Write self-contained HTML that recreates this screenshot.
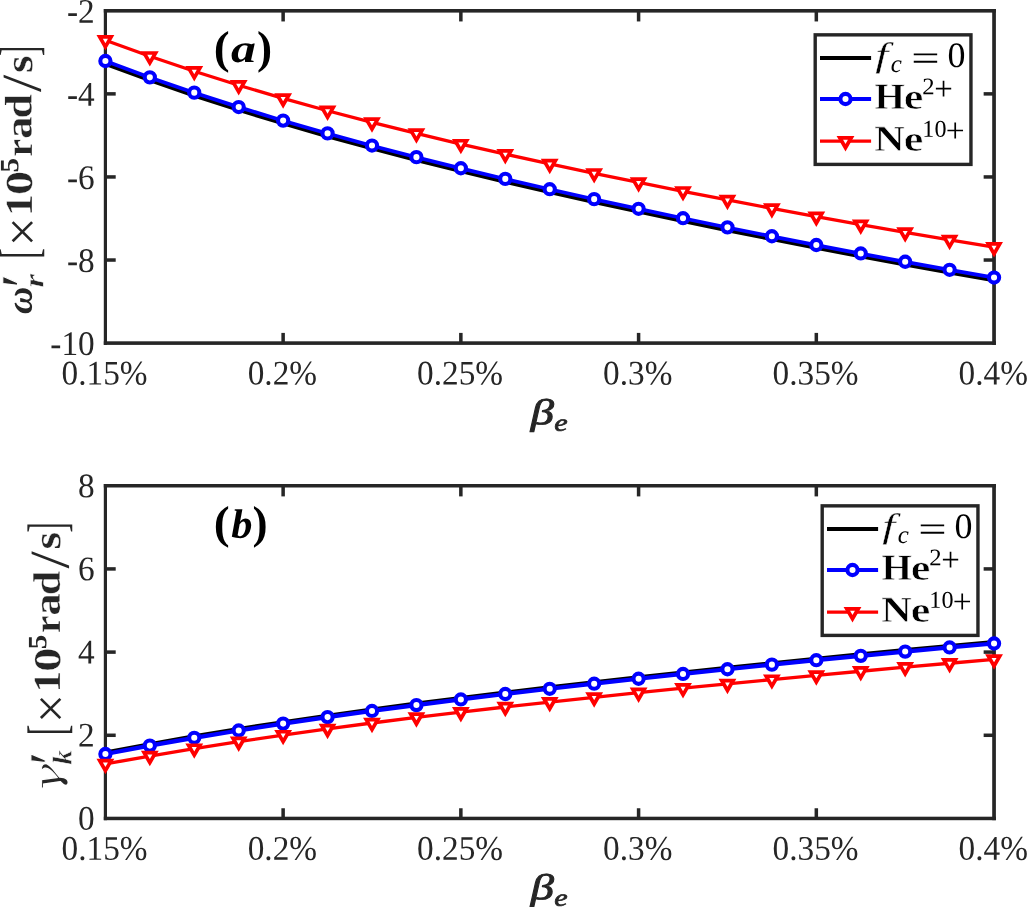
<!DOCTYPE html>
<html lang="en"><head><meta charset="utf-8"><title>Figure</title>
<style>html,body{margin:0;padding:0;background:#fff}svg{display:block}</style></head>
<body>
<svg width="1027" height="907" viewBox="0 0 1027 907" text-rendering="geometricPrecision">
<rect width="1027" height="907" fill="#fff"/>
<g>
<rect x="281.38" y="332.90" width="3.50" height="10.20" fill="#262626"/>
<rect x="281.38" y="10.80" width="3.50" height="10.65" fill="#262626"/>
<rect x="459.11" y="332.90" width="3.50" height="10.20" fill="#262626"/>
<rect x="459.11" y="10.80" width="3.50" height="10.65" fill="#262626"/>
<rect x="636.84" y="332.90" width="3.50" height="10.20" fill="#262626"/>
<rect x="636.84" y="10.80" width="3.50" height="10.65" fill="#262626"/>
<rect x="814.57" y="332.90" width="3.50" height="10.20" fill="#262626"/>
<rect x="814.57" y="10.80" width="3.50" height="10.65" fill="#262626"/>
<rect x="105.40" y="92.12" width="10.30" height="3.50" fill="#262626"/>
<rect x="983.65" y="92.12" width="10.40" height="3.50" fill="#262626"/>
<rect x="105.40" y="175.20" width="10.30" height="3.50" fill="#262626"/>
<rect x="983.65" y="175.20" width="10.40" height="3.50" fill="#262626"/>
<rect x="105.40" y="258.28" width="10.30" height="3.50" fill="#262626"/>
<rect x="983.65" y="258.28" width="10.40" height="3.50" fill="#262626"/>
<rect x="103.80" y="9.00" width="3.20" height="335.90" fill="#262626"/>
<rect x="992.20" y="9.00" width="3.70" height="335.90" fill="#262626"/>
<rect x="103.80" y="9.00" width="892.10" height="3.60" fill="#262626"/>
<rect x="103.80" y="341.30" width="892.10" height="3.60" fill="#262626"/>
<polyline points="105.40,63.85 149.83,80.19 194.26,95.50 238.70,109.88 283.13,123.43 327.56,136.24 372.00,148.41 416.43,160.01 460.86,171.11 505.29,181.77 549.73,192.06 594.16,202.00 638.59,211.66 683.02,221.04 727.46,230.19 771.89,239.12 816.32,247.83 860.75,256.32 905.18,264.59 949.62,272.63 994.05,280.40" fill="none" stroke="#000" stroke-width="4.0" stroke-linejoin="round"/>
<polyline points="105.40,61.10 149.83,77.44 194.26,92.75 238.70,107.13 283.13,120.68 327.56,133.49 372.00,145.66 416.43,157.26 460.86,168.36 505.29,179.02 549.73,189.31 594.16,199.25 638.59,208.91 683.02,218.29 727.46,227.44 771.89,236.37 816.32,245.08 860.75,253.57 905.18,261.84 949.62,269.88 994.05,277.65" fill="none" stroke="#00f" stroke-width="3.7" stroke-linejoin="round"/>
<circle cx="105.40" cy="61.00" r="5.1" fill="#fff" stroke="#00f" stroke-width="4.1"/>
<circle cx="149.83" cy="77.34" r="5.1" fill="#fff" stroke="#00f" stroke-width="4.1"/>
<circle cx="194.26" cy="92.65" r="5.1" fill="#fff" stroke="#00f" stroke-width="4.1"/>
<circle cx="238.70" cy="107.03" r="5.1" fill="#fff" stroke="#00f" stroke-width="4.1"/>
<circle cx="283.13" cy="120.58" r="5.1" fill="#fff" stroke="#00f" stroke-width="4.1"/>
<circle cx="327.56" cy="133.39" r="5.1" fill="#fff" stroke="#00f" stroke-width="4.1"/>
<circle cx="372.00" cy="145.56" r="5.1" fill="#fff" stroke="#00f" stroke-width="4.1"/>
<circle cx="416.43" cy="157.16" r="5.1" fill="#fff" stroke="#00f" stroke-width="4.1"/>
<circle cx="460.86" cy="168.26" r="5.1" fill="#fff" stroke="#00f" stroke-width="4.1"/>
<circle cx="505.29" cy="178.92" r="5.1" fill="#fff" stroke="#00f" stroke-width="4.1"/>
<circle cx="549.73" cy="189.21" r="5.1" fill="#fff" stroke="#00f" stroke-width="4.1"/>
<circle cx="594.16" cy="199.15" r="5.1" fill="#fff" stroke="#00f" stroke-width="4.1"/>
<circle cx="638.59" cy="208.81" r="5.1" fill="#fff" stroke="#00f" stroke-width="4.1"/>
<circle cx="683.02" cy="218.19" r="5.1" fill="#fff" stroke="#00f" stroke-width="4.1"/>
<circle cx="727.46" cy="227.34" r="5.1" fill="#fff" stroke="#00f" stroke-width="4.1"/>
<circle cx="771.89" cy="236.27" r="5.1" fill="#fff" stroke="#00f" stroke-width="4.1"/>
<circle cx="816.32" cy="244.98" r="5.1" fill="#fff" stroke="#00f" stroke-width="4.1"/>
<circle cx="860.75" cy="253.47" r="5.1" fill="#fff" stroke="#00f" stroke-width="4.1"/>
<circle cx="905.18" cy="261.74" r="5.1" fill="#fff" stroke="#00f" stroke-width="4.1"/>
<circle cx="949.62" cy="269.78" r="5.1" fill="#fff" stroke="#00f" stroke-width="4.1"/>
<circle cx="994.05" cy="277.55" r="5.1" fill="#fff" stroke="#00f" stroke-width="4.1"/>
<polyline points="105.40,40.21 149.83,56.30 194.26,71.27 238.70,85.26 283.13,98.38 327.56,110.72 372.00,122.39 416.43,133.47 460.86,144.03 505.29,154.16 549.73,163.91 594.16,173.32 638.59,182.45 683.02,191.32 727.46,199.96 771.89,208.39 816.32,216.61 860.75,224.62 905.18,232.41 949.62,239.96 994.05,247.24" fill="none" stroke="#f00" stroke-width="3.3" stroke-linejoin="round"/>
<polygon points="99.68,36.91 111.12,36.91 105.40,46.81" fill="#fff" stroke="#f00" stroke-width="3.7" stroke-linejoin="miter" stroke-miterlimit="10"/>
<polygon points="144.11,53.00 155.55,53.00 149.83,62.90" fill="#fff" stroke="#f00" stroke-width="3.7" stroke-linejoin="miter" stroke-miterlimit="10"/>
<polygon points="188.54,67.97 199.98,67.97 194.26,77.87" fill="#fff" stroke="#f00" stroke-width="3.7" stroke-linejoin="miter" stroke-miterlimit="10"/>
<polygon points="232.98,81.96 244.42,81.96 238.70,91.86" fill="#fff" stroke="#f00" stroke-width="3.7" stroke-linejoin="miter" stroke-miterlimit="10"/>
<polygon points="277.41,95.08 288.85,95.08 283.13,104.98" fill="#fff" stroke="#f00" stroke-width="3.7" stroke-linejoin="miter" stroke-miterlimit="10"/>
<polygon points="321.84,107.42 333.28,107.42 327.56,117.32" fill="#fff" stroke="#f00" stroke-width="3.7" stroke-linejoin="miter" stroke-miterlimit="10"/>
<polygon points="366.27,119.09 377.72,119.09 372.00,128.99" fill="#fff" stroke="#f00" stroke-width="3.7" stroke-linejoin="miter" stroke-miterlimit="10"/>
<polygon points="410.71,130.17 422.15,130.17 416.43,140.07" fill="#fff" stroke="#f00" stroke-width="3.7" stroke-linejoin="miter" stroke-miterlimit="10"/>
<polygon points="455.14,140.73 466.58,140.73 460.86,150.63" fill="#fff" stroke="#f00" stroke-width="3.7" stroke-linejoin="miter" stroke-miterlimit="10"/>
<polygon points="499.57,150.86 511.01,150.86 505.29,160.76" fill="#fff" stroke="#f00" stroke-width="3.7" stroke-linejoin="miter" stroke-miterlimit="10"/>
<polygon points="544.00,160.61 555.45,160.61 549.73,170.51" fill="#fff" stroke="#f00" stroke-width="3.7" stroke-linejoin="miter" stroke-miterlimit="10"/>
<polygon points="588.44,170.02 599.88,170.02 594.16,179.92" fill="#fff" stroke="#f00" stroke-width="3.7" stroke-linejoin="miter" stroke-miterlimit="10"/>
<polygon points="632.87,179.15 644.31,179.15 638.59,189.05" fill="#fff" stroke="#f00" stroke-width="3.7" stroke-linejoin="miter" stroke-miterlimit="10"/>
<polygon points="677.30,188.02 688.74,188.02 683.02,197.92" fill="#fff" stroke="#f00" stroke-width="3.7" stroke-linejoin="miter" stroke-miterlimit="10"/>
<polygon points="721.74,196.66 733.18,196.66 727.46,206.56" fill="#fff" stroke="#f00" stroke-width="3.7" stroke-linejoin="miter" stroke-miterlimit="10"/>
<polygon points="766.17,205.09 777.61,205.09 771.89,214.99" fill="#fff" stroke="#f00" stroke-width="3.7" stroke-linejoin="miter" stroke-miterlimit="10"/>
<polygon points="810.60,213.31 822.04,213.31 816.32,223.21" fill="#fff" stroke="#f00" stroke-width="3.7" stroke-linejoin="miter" stroke-miterlimit="10"/>
<polygon points="855.03,221.32 866.47,221.32 860.75,231.22" fill="#fff" stroke="#f00" stroke-width="3.7" stroke-linejoin="miter" stroke-miterlimit="10"/>
<polygon points="899.46,229.11 910.90,229.11 905.18,239.01" fill="#fff" stroke="#f00" stroke-width="3.7" stroke-linejoin="miter" stroke-miterlimit="10"/>
<polygon points="943.90,236.66 955.34,236.66 949.62,246.56" fill="#fff" stroke="#f00" stroke-width="3.7" stroke-linejoin="miter" stroke-miterlimit="10"/>
<polygon points="988.33,243.94 999.77,243.94 994.05,253.84" fill="#fff" stroke="#f00" stroke-width="3.7" stroke-linejoin="miter" stroke-miterlimit="10"/>
<text transform="matrix(1 0.0005 0 1.035 104.60 384.6)" text-anchor="middle" font-family="Liberation Serif, serif" font-size="33.3" fill="#262626">0.15%</text>
<text transform="matrix(1 0.0005 0 1.035 282.33 384.6)" text-anchor="middle" font-family="Liberation Serif, serif" font-size="33.3" fill="#262626">0.2%</text>
<text transform="matrix(1 0.0005 0 1.035 460.06 384.6)" text-anchor="middle" font-family="Liberation Serif, serif" font-size="33.3" fill="#262626">0.25%</text>
<text transform="matrix(1 0.0005 0 1.035 637.79 384.6)" text-anchor="middle" font-family="Liberation Serif, serif" font-size="33.3" fill="#262626">0.3%</text>
<text transform="matrix(1 0.0005 0 1.035 815.52 384.6)" text-anchor="middle" font-family="Liberation Serif, serif" font-size="33.3" fill="#262626">0.35%</text>
<text transform="matrix(1 0.0005 0 1.035 993.25 384.6)" text-anchor="middle" font-family="Liberation Serif, serif" font-size="33.3" fill="#262626">0.4%</text>
<text transform="matrix(1 0.0005 0 1.035 94.7 22.80)" text-anchor="end" font-family="Liberation Serif, serif" font-size="33.3" fill="#262626">-2</text>
<text transform="matrix(1 0.0005 0 1.035 94.7 105.88)" text-anchor="end" font-family="Liberation Serif, serif" font-size="33.3" fill="#262626">-4</text>
<text transform="matrix(1 0.0005 0 1.035 94.7 188.95)" text-anchor="end" font-family="Liberation Serif, serif" font-size="33.3" fill="#262626">-6</text>
<text transform="matrix(1 0.0005 0 1.035 94.7 272.03)" text-anchor="end" font-family="Liberation Serif, serif" font-size="33.3" fill="#262626">-8</text>
<text transform="matrix(1 0.0005 0 1.035 94.7 355.10)" text-anchor="end" font-family="Liberation Serif, serif" font-size="33.3" fill="#262626">-10</text>
</g>
<g>
<rect x="281.38" y="808.25" width="3.50" height="10.20" fill="#262626"/>
<rect x="281.38" y="485.75" width="3.50" height="10.65" fill="#262626"/>
<rect x="459.11" y="808.25" width="3.50" height="10.20" fill="#262626"/>
<rect x="459.11" y="485.75" width="3.50" height="10.65" fill="#262626"/>
<rect x="636.84" y="808.25" width="3.50" height="10.20" fill="#262626"/>
<rect x="636.84" y="485.75" width="3.50" height="10.65" fill="#262626"/>
<rect x="814.57" y="808.25" width="3.50" height="10.20" fill="#262626"/>
<rect x="814.57" y="485.75" width="3.50" height="10.65" fill="#262626"/>
<rect x="105.40" y="567.17" width="10.30" height="3.50" fill="#262626"/>
<rect x="983.65" y="567.17" width="10.40" height="3.50" fill="#262626"/>
<rect x="105.40" y="650.35" width="10.30" height="3.50" fill="#262626"/>
<rect x="983.65" y="650.35" width="10.40" height="3.50" fill="#262626"/>
<rect x="105.40" y="733.53" width="10.30" height="3.50" fill="#262626"/>
<rect x="983.65" y="733.53" width="10.40" height="3.50" fill="#262626"/>
<rect x="103.80" y="484.00" width="3.20" height="336.20" fill="#262626"/>
<rect x="992.20" y="484.00" width="3.70" height="336.20" fill="#262626"/>
<rect x="103.80" y="484.00" width="892.10" height="3.50" fill="#262626"/>
<rect x="103.80" y="816.70" width="892.10" height="3.50" fill="#262626"/>
<polyline points="105.40,752.48 149.83,744.12 194.26,736.31 238.70,728.99 283.13,722.11 327.56,715.61 372.00,709.45 416.43,703.57 460.86,697.94 505.29,692.52 549.73,687.28 594.16,682.21 638.59,677.27 683.02,672.46 727.46,667.76 771.89,663.17 816.32,658.69 860.75,654.32 905.18,650.07 949.62,645.96 994.05,642.00" fill="none" stroke="#000" stroke-width="4.0" stroke-linejoin="round"/>
<polyline points="105.40,753.98 149.83,745.62 194.26,737.81 238.70,730.49 283.13,723.61 327.56,717.11 372.00,710.95 416.43,705.07 460.86,699.44 505.29,694.02 549.73,688.78 594.16,683.71 638.59,678.77 683.02,673.96 727.46,669.26 771.89,664.67 816.32,660.19 860.75,655.82 905.18,651.57 949.62,647.46 994.05,643.50" fill="none" stroke="#00f" stroke-width="4.2" stroke-linejoin="round"/>
<circle cx="105.40" cy="753.98" r="5.1" fill="#fff" stroke="#00f" stroke-width="4.1"/>
<circle cx="149.83" cy="745.62" r="5.1" fill="#fff" stroke="#00f" stroke-width="4.1"/>
<circle cx="194.26" cy="737.81" r="5.1" fill="#fff" stroke="#00f" stroke-width="4.1"/>
<circle cx="238.70" cy="730.49" r="5.1" fill="#fff" stroke="#00f" stroke-width="4.1"/>
<circle cx="283.13" cy="723.61" r="5.1" fill="#fff" stroke="#00f" stroke-width="4.1"/>
<circle cx="327.56" cy="717.11" r="5.1" fill="#fff" stroke="#00f" stroke-width="4.1"/>
<circle cx="372.00" cy="710.95" r="5.1" fill="#fff" stroke="#00f" stroke-width="4.1"/>
<circle cx="416.43" cy="705.07" r="5.1" fill="#fff" stroke="#00f" stroke-width="4.1"/>
<circle cx="460.86" cy="699.44" r="5.1" fill="#fff" stroke="#00f" stroke-width="4.1"/>
<circle cx="505.29" cy="694.02" r="5.1" fill="#fff" stroke="#00f" stroke-width="4.1"/>
<circle cx="549.73" cy="688.78" r="5.1" fill="#fff" stroke="#00f" stroke-width="4.1"/>
<circle cx="594.16" cy="683.71" r="5.1" fill="#fff" stroke="#00f" stroke-width="4.1"/>
<circle cx="638.59" cy="678.77" r="5.1" fill="#fff" stroke="#00f" stroke-width="4.1"/>
<circle cx="683.02" cy="673.96" r="5.1" fill="#fff" stroke="#00f" stroke-width="4.1"/>
<circle cx="727.46" cy="669.26" r="5.1" fill="#fff" stroke="#00f" stroke-width="4.1"/>
<circle cx="771.89" cy="664.67" r="5.1" fill="#fff" stroke="#00f" stroke-width="4.1"/>
<circle cx="816.32" cy="660.19" r="5.1" fill="#fff" stroke="#00f" stroke-width="4.1"/>
<circle cx="860.75" cy="655.82" r="5.1" fill="#fff" stroke="#00f" stroke-width="4.1"/>
<circle cx="905.18" cy="651.57" r="5.1" fill="#fff" stroke="#00f" stroke-width="4.1"/>
<circle cx="949.62" cy="647.46" r="5.1" fill="#fff" stroke="#00f" stroke-width="4.1"/>
<circle cx="994.05" cy="643.50" r="5.1" fill="#fff" stroke="#00f" stroke-width="4.1"/>
<polyline points="105.40,763.98 149.83,756.02 194.26,748.57 238.70,741.60 283.13,735.04 327.56,728.85 372.00,722.99 416.43,717.42 460.86,712.10 505.29,706.99 549.73,702.08 594.16,697.33 638.59,692.72 683.02,688.23 727.46,683.84 771.89,679.56 816.32,675.36 860.75,671.24 905.18,667.21 949.62,663.26 994.05,659.40" fill="none" stroke="#f00" stroke-width="3.3" stroke-linejoin="round"/>
<polygon points="99.68,760.68 111.12,760.68 105.40,770.58" fill="#fff" stroke="#f00" stroke-width="3.7" stroke-linejoin="miter" stroke-miterlimit="10"/>
<polygon points="144.11,752.72 155.55,752.72 149.83,762.62" fill="#fff" stroke="#f00" stroke-width="3.7" stroke-linejoin="miter" stroke-miterlimit="10"/>
<polygon points="188.54,745.27 199.98,745.27 194.26,755.17" fill="#fff" stroke="#f00" stroke-width="3.7" stroke-linejoin="miter" stroke-miterlimit="10"/>
<polygon points="232.98,738.30 244.42,738.30 238.70,748.20" fill="#fff" stroke="#f00" stroke-width="3.7" stroke-linejoin="miter" stroke-miterlimit="10"/>
<polygon points="277.41,731.74 288.85,731.74 283.13,741.64" fill="#fff" stroke="#f00" stroke-width="3.7" stroke-linejoin="miter" stroke-miterlimit="10"/>
<polygon points="321.84,725.55 333.28,725.55 327.56,735.45" fill="#fff" stroke="#f00" stroke-width="3.7" stroke-linejoin="miter" stroke-miterlimit="10"/>
<polygon points="366.27,719.69 377.72,719.69 372.00,729.59" fill="#fff" stroke="#f00" stroke-width="3.7" stroke-linejoin="miter" stroke-miterlimit="10"/>
<polygon points="410.71,714.12 422.15,714.12 416.43,724.02" fill="#fff" stroke="#f00" stroke-width="3.7" stroke-linejoin="miter" stroke-miterlimit="10"/>
<polygon points="455.14,708.80 466.58,708.80 460.86,718.70" fill="#fff" stroke="#f00" stroke-width="3.7" stroke-linejoin="miter" stroke-miterlimit="10"/>
<polygon points="499.57,703.69 511.01,703.69 505.29,713.59" fill="#fff" stroke="#f00" stroke-width="3.7" stroke-linejoin="miter" stroke-miterlimit="10"/>
<polygon points="544.00,698.78 555.45,698.78 549.73,708.68" fill="#fff" stroke="#f00" stroke-width="3.7" stroke-linejoin="miter" stroke-miterlimit="10"/>
<polygon points="588.44,694.03 599.88,694.03 594.16,703.93" fill="#fff" stroke="#f00" stroke-width="3.7" stroke-linejoin="miter" stroke-miterlimit="10"/>
<polygon points="632.87,689.42 644.31,689.42 638.59,699.32" fill="#fff" stroke="#f00" stroke-width="3.7" stroke-linejoin="miter" stroke-miterlimit="10"/>
<polygon points="677.30,684.93 688.74,684.93 683.02,694.83" fill="#fff" stroke="#f00" stroke-width="3.7" stroke-linejoin="miter" stroke-miterlimit="10"/>
<polygon points="721.74,680.54 733.18,680.54 727.46,690.44" fill="#fff" stroke="#f00" stroke-width="3.7" stroke-linejoin="miter" stroke-miterlimit="10"/>
<polygon points="766.17,676.26 777.61,676.26 771.89,686.16" fill="#fff" stroke="#f00" stroke-width="3.7" stroke-linejoin="miter" stroke-miterlimit="10"/>
<polygon points="810.60,672.06 822.04,672.06 816.32,681.96" fill="#fff" stroke="#f00" stroke-width="3.7" stroke-linejoin="miter" stroke-miterlimit="10"/>
<polygon points="855.03,667.94 866.47,667.94 860.75,677.84" fill="#fff" stroke="#f00" stroke-width="3.7" stroke-linejoin="miter" stroke-miterlimit="10"/>
<polygon points="899.46,663.91 910.90,663.91 905.18,673.81" fill="#fff" stroke="#f00" stroke-width="3.7" stroke-linejoin="miter" stroke-miterlimit="10"/>
<polygon points="943.90,659.96 955.34,659.96 949.62,669.86" fill="#fff" stroke="#f00" stroke-width="3.7" stroke-linejoin="miter" stroke-miterlimit="10"/>
<polygon points="988.33,656.10 999.77,656.10 994.05,666.00" fill="#fff" stroke="#f00" stroke-width="3.7" stroke-linejoin="miter" stroke-miterlimit="10"/>
<text transform="matrix(1 0.0005 0 1.035 104.60 859.7)" text-anchor="middle" font-family="Liberation Serif, serif" font-size="33.3" fill="#262626">0.15%</text>
<text transform="matrix(1 0.0005 0 1.035 282.33 859.7)" text-anchor="middle" font-family="Liberation Serif, serif" font-size="33.3" fill="#262626">0.2%</text>
<text transform="matrix(1 0.0005 0 1.035 460.06 859.7)" text-anchor="middle" font-family="Liberation Serif, serif" font-size="33.3" fill="#262626">0.25%</text>
<text transform="matrix(1 0.0005 0 1.035 637.79 859.7)" text-anchor="middle" font-family="Liberation Serif, serif" font-size="33.3" fill="#262626">0.3%</text>
<text transform="matrix(1 0.0005 0 1.035 815.52 859.7)" text-anchor="middle" font-family="Liberation Serif, serif" font-size="33.3" fill="#262626">0.35%</text>
<text transform="matrix(1 0.0005 0 1.035 993.25 859.7)" text-anchor="middle" font-family="Liberation Serif, serif" font-size="33.3" fill="#262626">0.4%</text>
<text transform="matrix(1 0.0005 0 1.035 94.7 497.15)" text-anchor="end" font-family="Liberation Serif, serif" font-size="33.3" fill="#262626">8</text>
<text transform="matrix(1 0.0005 0 1.035 94.7 580.29)" text-anchor="end" font-family="Liberation Serif, serif" font-size="33.3" fill="#262626">6</text>
<text transform="matrix(1 0.0005 0 1.035 94.7 663.42)" text-anchor="end" font-family="Liberation Serif, serif" font-size="33.3" fill="#262626">4</text>
<text transform="matrix(1 0.0005 0 1.035 94.7 746.56)" text-anchor="end" font-family="Liberation Serif, serif" font-size="33.3" fill="#262626">2</text>
<text transform="matrix(1 0.0005 0 1.035 94.7 829.70)" text-anchor="end" font-family="Liberation Serif, serif" font-size="33.3" fill="#262626">0</text>
</g>
<rect x="815.20" y="34.85" width="155.75" height="129.55" fill="#fff" stroke="#262626" stroke-width="3.4"/>
<path d="M820.00 57.90 H871.10" stroke="#000" stroke-width="4.0"/>
<path d="M820.00 99.00 H871.10" stroke="#00f" stroke-width="4.2"/>
<circle cx="845.50" cy="99.00" r="5.1" fill="#fff" stroke="#00f" stroke-width="4.1"/>
<path d="M820.00 141.10 H871.10" stroke="#f00" stroke-width="3.2"/>
<polygon points="839.78,137.80 851.22,137.80 845.50,147.70" fill="#fff" stroke="#f00" stroke-width="3.7" stroke-linejoin="miter" stroke-miterlimit="10"/>
<text transform="matrix(1 0.0005 0 1 0 0)" fill="#000"><tspan x="875.23" y="65.89" font-size="34.32" textLength="13.06" lengthAdjust="spacingAndGlyphs" font-family="Liberation Serif, serif" font-style="italic" stroke="#fff" stroke-width="0.30">f</tspan><tspan x="890.85" y="71.55" font-size="25.00" textLength="11.10" lengthAdjust="spacingAndGlyphs" font-family="Liberation Serif, serif" font-style="italic">c</tspan><tspan x="911.28" y="69.81" font-size="36.73" textLength="28.38" lengthAdjust="spacingAndGlyphs" font-family="Liberation Serif, serif">=</tspan><tspan x="947.46" y="66.44" font-size="35.56" textLength="17.98" lengthAdjust="spacingAndGlyphs" font-family="Liberation Serif, serif">0</tspan></text>
<text transform="matrix(1 0.0005 0 1 0 0)" fill="#000"><tspan x="874.61" y="108.40" font-size="36.95" textLength="30.38" lengthAdjust="spacingAndGlyphs" font-family="Liberation Serif, serif" font-weight="bold" stroke="#fff" stroke-width="0.60">H</tspan><tspan x="903.75" y="108.34" font-size="36.04" textLength="19.60" lengthAdjust="spacingAndGlyphs" font-family="Liberation Serif, serif" font-weight="bold" stroke="#fff" stroke-width="0.60">e</tspan><tspan x="922.29" y="93.90" font-size="23.64" textLength="12.37" lengthAdjust="spacingAndGlyphs" font-family="Liberation Serif, serif">2</tspan><tspan x="934.35" y="99.52" font-size="34.19" textLength="18.56" lengthAdjust="spacingAndGlyphs" font-family="Liberation Serif, serif">+</tspan></text>
<text transform="matrix(1 0.0005 0 1 0 0)" fill="#000"><tspan x="874.36" y="150.30" font-size="36.49" textLength="30.46" lengthAdjust="spacingAndGlyphs" font-family="Liberation Serif, serif" font-weight="bold" stroke="#fff" stroke-width="0.60">N</tspan><tspan x="903.75" y="150.24" font-size="35.83" textLength="19.60" lengthAdjust="spacingAndGlyphs" font-family="Liberation Serif, serif" font-weight="bold" stroke="#fff" stroke-width="0.60">e</tspan><tspan x="922.33" y="136.26" font-size="24.15" textLength="24.14" lengthAdjust="spacingAndGlyphs" font-family="Liberation Serif, serif">10</tspan><tspan x="945.72" y="141.40" font-size="33.98" textLength="18.92" lengthAdjust="spacingAndGlyphs" font-family="Liberation Serif, serif">+</tspan></text>
<rect x="822.20" y="505.85" width="155.75" height="129.55" fill="#fff" stroke="#262626" stroke-width="3.4"/>
<path d="M827.00 528.90 H878.10" stroke="#000" stroke-width="4.0"/>
<path d="M827.00 570.00 H878.10" stroke="#00f" stroke-width="4.2"/>
<circle cx="852.50" cy="570.00" r="5.1" fill="#fff" stroke="#00f" stroke-width="4.1"/>
<path d="M827.00 612.10 H878.10" stroke="#f00" stroke-width="3.2"/>
<polygon points="846.78,608.80 858.22,608.80 852.50,618.70" fill="#fff" stroke="#f00" stroke-width="3.7" stroke-linejoin="miter" stroke-miterlimit="10"/>
<text transform="matrix(1 0.0005 0 1 0 0)" fill="#000"><tspan x="882.23" y="536.89" font-size="34.32" textLength="13.06" lengthAdjust="spacingAndGlyphs" font-family="Liberation Serif, serif" font-style="italic" stroke="#fff" stroke-width="0.30">f</tspan><tspan x="897.85" y="542.55" font-size="25.00" textLength="11.10" lengthAdjust="spacingAndGlyphs" font-family="Liberation Serif, serif" font-style="italic">c</tspan><tspan x="918.28" y="540.81" font-size="36.73" textLength="28.38" lengthAdjust="spacingAndGlyphs" font-family="Liberation Serif, serif">=</tspan><tspan x="954.46" y="537.44" font-size="35.56" textLength="17.98" lengthAdjust="spacingAndGlyphs" font-family="Liberation Serif, serif">0</tspan></text>
<text transform="matrix(1 0.0005 0 1 0 0)" fill="#000"><tspan x="881.61" y="579.40" font-size="36.95" textLength="30.38" lengthAdjust="spacingAndGlyphs" font-family="Liberation Serif, serif" font-weight="bold" stroke="#fff" stroke-width="0.60">H</tspan><tspan x="910.75" y="579.34" font-size="36.04" textLength="19.60" lengthAdjust="spacingAndGlyphs" font-family="Liberation Serif, serif" font-weight="bold" stroke="#fff" stroke-width="0.60">e</tspan><tspan x="929.29" y="564.90" font-size="23.64" textLength="12.37" lengthAdjust="spacingAndGlyphs" font-family="Liberation Serif, serif">2</tspan><tspan x="941.35" y="570.52" font-size="34.19" textLength="18.56" lengthAdjust="spacingAndGlyphs" font-family="Liberation Serif, serif">+</tspan></text>
<text transform="matrix(1 0.0005 0 1 0 0)" fill="#000"><tspan x="881.36" y="621.30" font-size="36.49" textLength="30.46" lengthAdjust="spacingAndGlyphs" font-family="Liberation Serif, serif" font-weight="bold" stroke="#fff" stroke-width="0.60">N</tspan><tspan x="910.75" y="621.24" font-size="35.83" textLength="19.60" lengthAdjust="spacingAndGlyphs" font-family="Liberation Serif, serif" font-weight="bold" stroke="#fff" stroke-width="0.60">e</tspan><tspan x="929.33" y="607.26" font-size="24.15" textLength="24.14" lengthAdjust="spacingAndGlyphs" font-family="Liberation Serif, serif">10</tspan><tspan x="952.72" y="612.40" font-size="33.98" textLength="18.92" lengthAdjust="spacingAndGlyphs" font-family="Liberation Serif, serif">+</tspan></text>
<text transform="matrix(1 0.0005 0 1 0 0)" fill="#000"><tspan x="213.65" y="62.94" font-size="46.00" textLength="15.93" lengthAdjust="spacingAndGlyphs" font-family="Liberation Serif, serif" font-weight="bold">(</tspan><tspan x="231.10" y="61.90" font-size="39.79" textLength="24.95" lengthAdjust="spacingAndGlyphs" font-family="Liberation Serif, serif" font-weight="bold" font-style="italic">a</tspan><tspan x="256.94" y="62.94" font-size="46.00" textLength="15.11" lengthAdjust="spacingAndGlyphs" font-family="Liberation Serif, serif" font-weight="bold">)</tspan></text>
<text transform="matrix(1 0.0005 0 1 0 0)" fill="#000"><tspan x="213.65" y="537.94" font-size="46.00" textLength="15.93" lengthAdjust="spacingAndGlyphs" font-family="Liberation Serif, serif" font-weight="bold">(</tspan><tspan x="231.36" y="537.59" font-size="41.13" textLength="21.21" lengthAdjust="spacingAndGlyphs" font-family="Liberation Serif, serif" font-weight="bold" font-style="italic">b</tspan><tspan x="252.54" y="537.94" font-size="46.00" textLength="15.11" lengthAdjust="spacingAndGlyphs" font-family="Liberation Serif, serif" font-weight="bold">)</tspan></text>
<text transform="matrix(1 0.0005 0 1 0 0)" fill="#262626"><tspan x="530.70" y="424.03" font-size="36.07" textLength="23.14" lengthAdjust="spacingAndGlyphs" font-family="Liberation Serif, serif" font-style="italic" stroke="#262626" stroke-width="0.90" stroke-linejoin="round">β</tspan><tspan x="554.39" y="430.36" font-size="24.17" textLength="13.43" lengthAdjust="spacingAndGlyphs" font-family="Liberation Serif, serif" font-style="italic" stroke="#262626" stroke-width="0.70" stroke-linejoin="round">e</tspan></text>
<text transform="matrix(1 0.0005 0 1 0 0)" fill="#262626"><tspan x="530.70" y="899.03" font-size="36.07" textLength="23.14" lengthAdjust="spacingAndGlyphs" font-family="Liberation Serif, serif" font-style="italic" stroke="#262626" stroke-width="0.90" stroke-linejoin="round">β</tspan><tspan x="554.39" y="905.36" font-size="24.17" textLength="13.43" lengthAdjust="spacingAndGlyphs" font-family="Liberation Serif, serif" font-style="italic" stroke="#262626" stroke-width="0.70" stroke-linejoin="round">e</tspan></text>
<text transform="matrix(0.0005 -1 1 0 0 0)" fill="#262626"><tspan x="-313.95" y="31.83" font-size="36.67" textLength="27.29" lengthAdjust="spacingAndGlyphs" font-family="Liberation Serif, serif" font-weight="bold" font-style="italic">ω</tspan><tspan x="-289.05" y="43.77" font-size="62.55" textLength="16.41" lengthAdjust="spacingAndGlyphs" font-family="Liberation Serif, serif" stroke="#fff" stroke-width="1.00">′</tspan><tspan x="-287.60" y="43.40" font-size="28.09" textLength="13.59" lengthAdjust="spacingAndGlyphs" font-family="Liberation Serif, serif" font-weight="bold" font-style="italic" stroke="#fff" stroke-width="0.40">r</tspan><tspan x="-258.99" y="37.18" font-size="54.22" textLength="11.05" lengthAdjust="spacingAndGlyphs" font-family="Liberation Serif, serif">[</tspan><tspan x="-246.31" y="39.90" font-size="52.35" textLength="28.96" lengthAdjust="spacingAndGlyphs" font-family="Liberation Serif, serif">×</tspan><tspan x="-216.01" y="32.05" font-size="38.33" textLength="21.62" lengthAdjust="spacingAndGlyphs" font-family="Liberation Serif, serif" font-weight="bold" stroke="#fff" stroke-width="0.30">1</tspan><tspan x="-195.08" y="32.17" font-size="38.22" textLength="24.17" lengthAdjust="spacingAndGlyphs" font-family="Liberation Serif, serif" font-weight="bold" stroke="#fff" stroke-width="0.30">0</tspan><tspan x="-172.56" y="18.24" font-size="26.47" textLength="14.47" lengthAdjust="spacingAndGlyphs" font-family="Liberation Serif, serif" font-weight="bold">5</tspan><tspan x="-156.54" y="32.05" font-size="37.89" textLength="17.64" lengthAdjust="spacingAndGlyphs" font-family="Liberation Serif, serif" font-weight="bold" stroke="#fff" stroke-width="0.30">r</tspan><tspan x="-138.88" y="31.67" font-size="38.12" textLength="22.09" lengthAdjust="spacingAndGlyphs" font-family="Liberation Serif, serif" font-weight="bold" stroke="#fff" stroke-width="0.30">a</tspan><tspan x="-118.60" y="31.67" font-size="38.44" textLength="24.34" lengthAdjust="spacingAndGlyphs" font-family="Liberation Serif, serif" font-weight="bold" stroke="#fff" stroke-width="0.30">d</tspan><tspan x="-92.00" y="40.44" font-size="55.97" textLength="17.38" lengthAdjust="spacingAndGlyphs" font-family="Liberation Serif, serif">/</tspan><tspan x="-73.01" y="32.16" font-size="39.17" textLength="17.66" lengthAdjust="spacingAndGlyphs" font-family="Liberation Serif, serif" font-weight="bold" stroke="#fff" stroke-width="0.30">s</tspan><tspan x="-55.89" y="37.18" font-size="54.22" textLength="10.36" lengthAdjust="spacingAndGlyphs" font-family="Liberation Serif, serif">]</tspan></text>
<text transform="matrix(0.0005 -1 1 0 0 0)" fill="#262626"><tspan x="-793.21" y="60.85" font-size="36.44" textLength="29.94" lengthAdjust="spacingAndGlyphs" font-family="DejaVu Serif, Liberation Serif, serif" font-style="italic" stroke="#fff" stroke-width="1.00">γ</tspan><tspan x="-766.17" y="71.16" font-size="60.85" textLength="16.04" lengthAdjust="spacingAndGlyphs" font-family="Liberation Serif, serif" stroke="#fff" stroke-width="1.00">′</tspan><tspan x="-764.75" y="71.90" font-size="27.19" textLength="14.84" lengthAdjust="spacingAndGlyphs" font-family="Liberation Serif, serif" font-weight="bold" font-style="italic" stroke="#fff" stroke-width="0.50">k</tspan><tspan x="-735.59" y="65.58" font-size="54.22" textLength="11.05" lengthAdjust="spacingAndGlyphs" font-family="Liberation Serif, serif">[</tspan><tspan x="-722.91" y="68.30" font-size="52.35" textLength="28.96" lengthAdjust="spacingAndGlyphs" font-family="Liberation Serif, serif">×</tspan><tspan x="-692.61" y="60.45" font-size="38.33" textLength="21.62" lengthAdjust="spacingAndGlyphs" font-family="Liberation Serif, serif" font-weight="bold" stroke="#fff" stroke-width="0.30">1</tspan><tspan x="-671.68" y="60.57" font-size="38.22" textLength="24.17" lengthAdjust="spacingAndGlyphs" font-family="Liberation Serif, serif" font-weight="bold" stroke="#fff" stroke-width="0.30">0</tspan><tspan x="-649.16" y="46.64" font-size="26.47" textLength="14.47" lengthAdjust="spacingAndGlyphs" font-family="Liberation Serif, serif" font-weight="bold">5</tspan><tspan x="-633.14" y="60.45" font-size="37.89" textLength="17.64" lengthAdjust="spacingAndGlyphs" font-family="Liberation Serif, serif" font-weight="bold" stroke="#fff" stroke-width="0.30">r</tspan><tspan x="-615.48" y="60.07" font-size="38.12" textLength="22.09" lengthAdjust="spacingAndGlyphs" font-family="Liberation Serif, serif" font-weight="bold" stroke="#fff" stroke-width="0.30">a</tspan><tspan x="-595.20" y="60.07" font-size="38.44" textLength="24.34" lengthAdjust="spacingAndGlyphs" font-family="Liberation Serif, serif" font-weight="bold" stroke="#fff" stroke-width="0.30">d</tspan><tspan x="-568.60" y="68.84" font-size="55.97" textLength="17.38" lengthAdjust="spacingAndGlyphs" font-family="Liberation Serif, serif">/</tspan><tspan x="-549.61" y="60.56" font-size="39.17" textLength="17.66" lengthAdjust="spacingAndGlyphs" font-family="Liberation Serif, serif" font-weight="bold" stroke="#fff" stroke-width="0.30">s</tspan><tspan x="-532.49" y="65.58" font-size="54.22" textLength="10.36" lengthAdjust="spacingAndGlyphs" font-family="Liberation Serif, serif">]</tspan></text>
</svg>
</body></html>
